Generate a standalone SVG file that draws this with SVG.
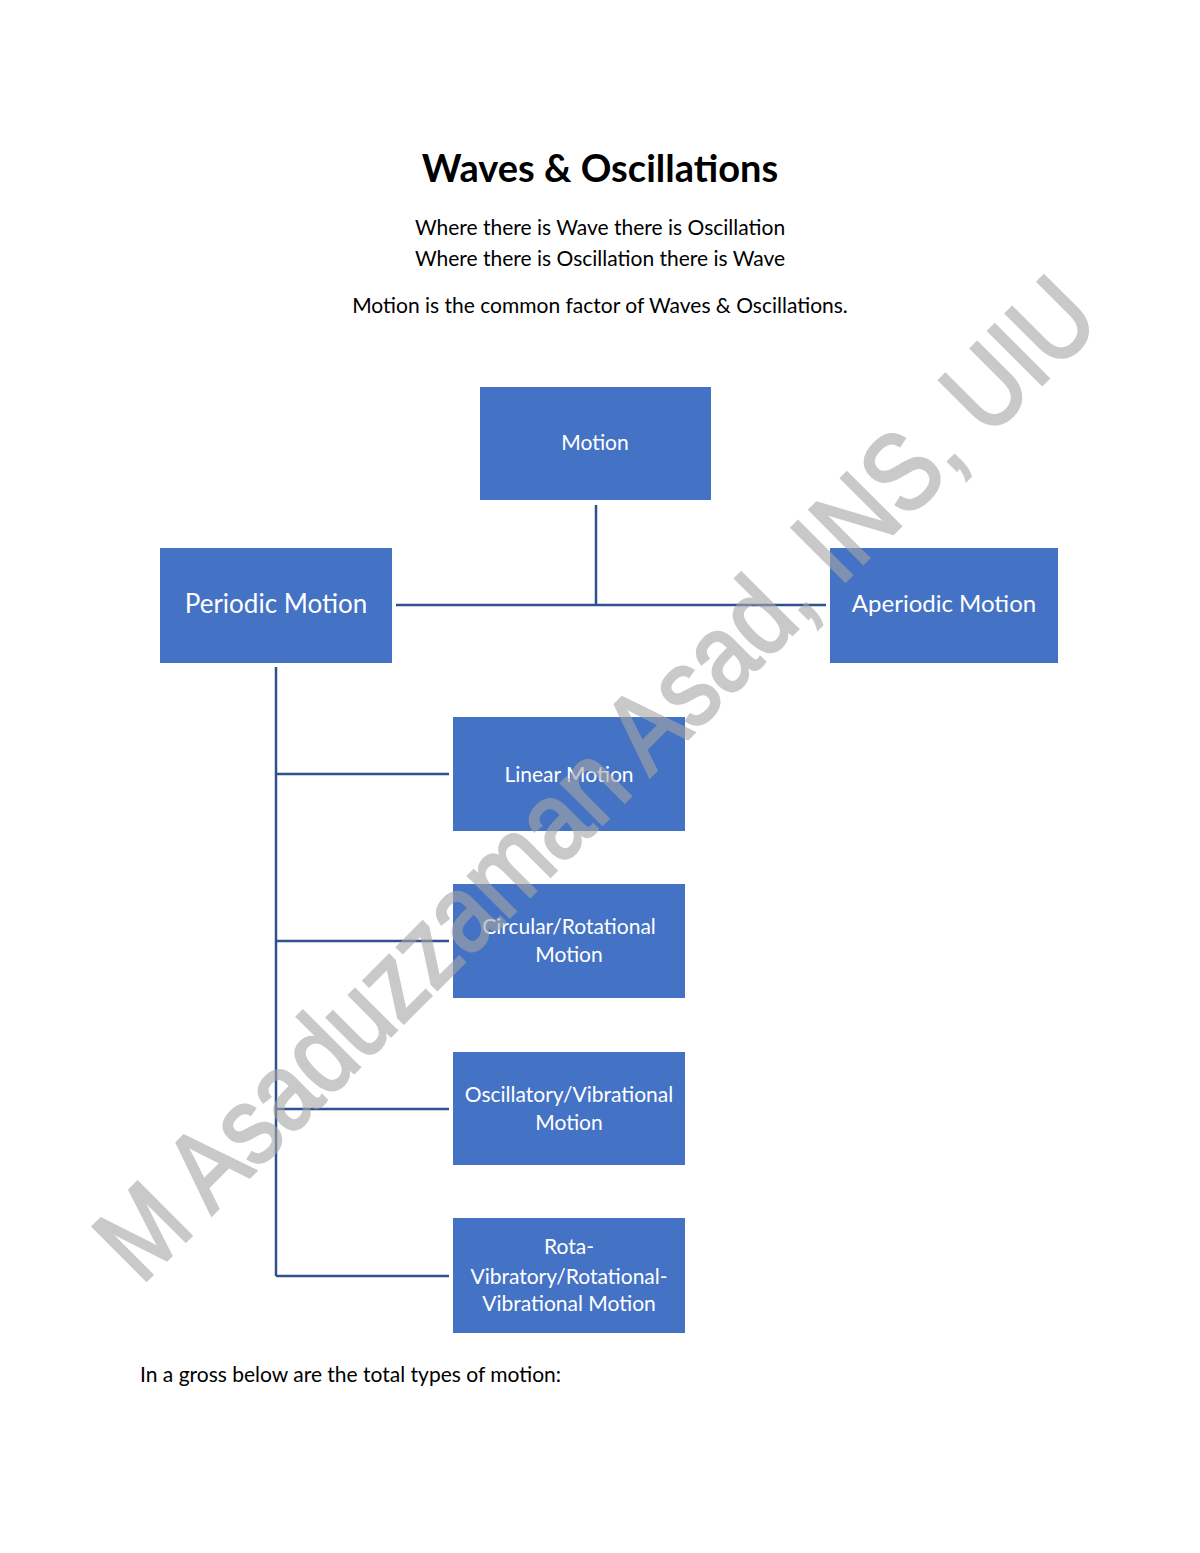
<svg xmlns="http://www.w3.org/2000/svg" width="1200" height="1553" viewBox="0 0 1200 1553">
<style>
.box{fill:#4472C4}
.bt{font-family:Lato,"Open Sans",sans-serif;fill:#fff;font-size:21px;text-anchor:middle}
.t{font-family:Lato,"Open Sans",sans-serif;fill:#000;font-size:21px}
.c{stroke:#2F528F;stroke-width:2.5;fill:none}
</style>
<rect width="1200" height="1553" fill="#fff"/>
<text x="600" y="182" class="t" style="font-size:38px;font-weight:bold" text-anchor="middle">Waves &amp; Oscillations</text>
<text x="600" y="235" class="t" text-anchor="middle">Where there is Wave there is Oscillation</text>
<text x="600" y="266" class="t" text-anchor="middle">Where there is Oscillation there is Wave</text>
<text x="600" y="313" class="t" text-anchor="middle">Motion is the common factor of Waves &amp; Oscillations.</text>
<g id="connectors">
<path class="c" d="M596 505V605M396 605H826M276 667V1276M276 774H449M276 941H449M276 1109H449M276 1276H449"/>
</g>
<g id="motion"><rect class="box" x="480" y="387" width="231" height="113"/><text class="bt" x="595" y="450">Motion</text></g>
<g id="periodic"><rect class="box" x="160" y="548" width="232" height="115"/><text class="bt" x="276" y="613" style="font-size:26px">Periodic Motion</text></g>
<g id="aperiodic"><rect class="box" x="830" y="548" width="228" height="115"/><text class="bt" x="944" y="612" style="font-size:24px">Aperiodic Motion</text></g>
<g id="linear"><rect class="box" x="453" y="717" width="232" height="114"/><text class="bt" x="569" y="782">Linear Motion</text></g>
<g id="circular"><rect class="box" x="453" y="884" width="232" height="114"/><text class="bt" x="569" y="934">Circular/Rotational</text><text class="bt" x="569" y="962">Motion</text></g>
<g id="oscillatory"><rect class="box" x="453" y="1052" width="232" height="113"/><text class="bt" x="569" y="1102">Oscillatory/Vibrational</text><text class="bt" x="569" y="1130">Motion</text></g>
<g id="rota"><rect class="box" x="453" y="1218" width="232" height="115"/><text class="bt" x="569" y="1254">Rota-</text><text class="bt" x="569" y="1284">Vibratory/Rotational-</text><text class="bt" x="569" y="1311">Vibrational Motion</text></g>
<text x="140" y="1382" class="t">In a gross below are the total types of motion:</text>
<text x="0" y="0" transform="translate(595,778) rotate(-45)" text-anchor="middle" dy="38" font-family="Liberation Sans,sans-serif" font-size="110" fill="#A6A6A6" stroke="#A6A6A6" stroke-width="3" opacity="0.6" textLength="1360" lengthAdjust="spacingAndGlyphs">M Asaduzzaman Asad, INS, UIU</text>
</svg>
